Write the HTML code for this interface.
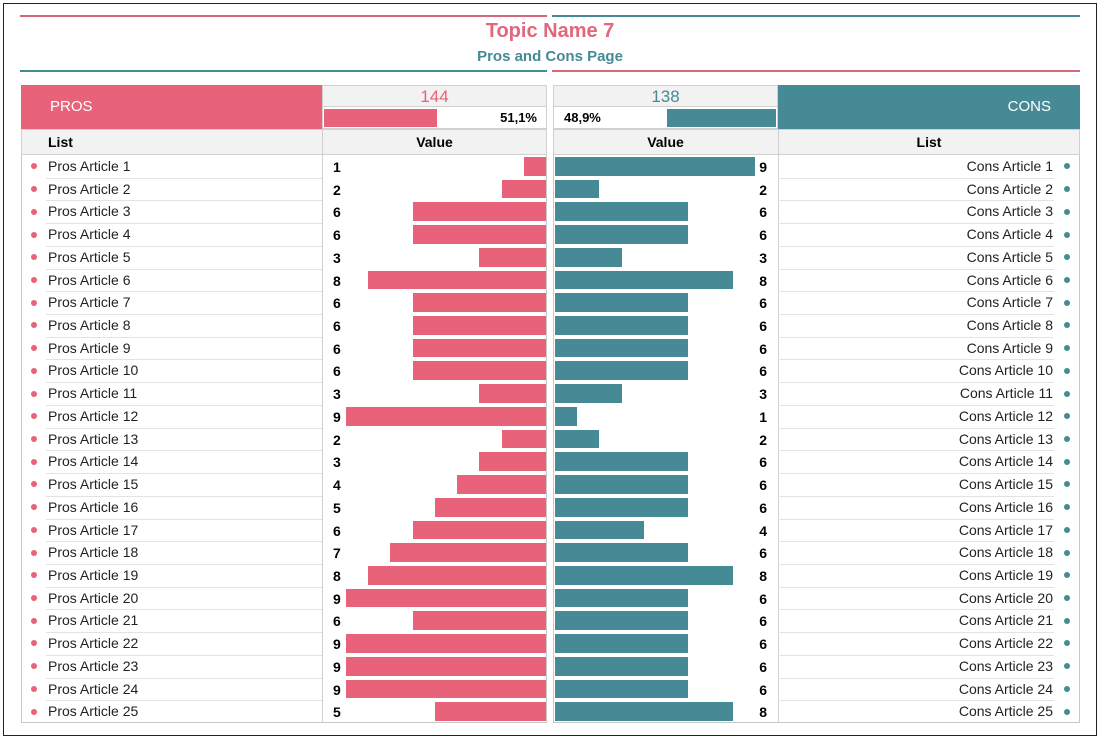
<!DOCTYPE html>
<html><head><meta charset="utf-8">
<style>
body{margin:0;background:#fff;font-family:"Liberation Sans",sans-serif;}
#root{position:relative;width:1100px;height:739px;overflow:hidden;background:#fff;}
.a{position:absolute;box-sizing:border-box;}
.t{position:absolute;white-space:nowrap;line-height:1;}
</style></head><body>
<div id="root">
<div class="a" style="left:3px;top:3px;width:1094px;height:733px;border:1px solid #222"></div>
<div class="a" style="left:20px;top:15px;width:527px;height:2px;background:#D9677A"></div>
<div class="a" style="left:552px;top:15px;width:528px;height:2px;background:#468A96"></div>
<div class="a" style="left:20px;top:70px;width:527px;height:2px;background:#468A96"></div>
<div class="a" style="left:552px;top:70px;width:528px;height:2px;background:#D9677A"></div>
<div class="t" style="left:0;width:1100px;text-align:center;top:21px;font-size:20px;font-weight:bold;color:#E0677C">Topic Name 7</div>
<div class="t" style="left:0;width:1100px;text-align:center;top:49px;font-size:15px;font-weight:bold;color:#468A96">Pros and Cons Page</div>
<div id="chart"></div>
</div>
<script>
const prosLabels=["Pros Article 1","Pros Article 2","Pros Article 3","Pros Article 4","Pros Article 5","Pros Article 6","Pros Article 7","Pros Article 8","Pros Article 9","Pros Article 10","Pros Article 11","Pros Article 12","Pros Article 13","Pros Article 14","Pros Article 15","Pros Article 16","Pros Article 17","Pros Article 18","Pros Article 19","Pros Article 20","Pros Article 21","Pros Article 22","Pros Article 23","Pros Article 24","Pros Article 25"];
const consLabels=["Cons Article 1","Cons Article 2","Cons Article 3","Cons Article 4","Cons Article 5","Cons Article 6","Cons Article 7","Cons Article 8","Cons Article 9","Cons Article 10","Cons Article 11","Cons Article 12","Cons Article 13","Cons Article 14","Cons Article 15","Cons Article 16","Cons Article 17","Cons Article 18","Cons Article 19","Cons Article 20","Cons Article 21","Cons Article 22","Cons Article 23","Cons Article 24","Cons Article 25"];
const prosValues=[1,2,6,6,3,8,6,6,6,6,3,9,2,3,4,5,6,7,8,9,6,9,9,9,5];
const consValues=[9,2,6,6,3,8,6,6,6,6,3,1,2,6,6,6,4,6,8,6,6,6,6,6,8];

const PINK="#E8627A",TEAL="#468A96";
const root=document.getElementById('chart');
function box(x,y,w,h,style){const d=document.createElement('div');d.className='a';d.style.cssText=`left:${x}px;top:${y}px;width:${w}px;height:${h}px;`+(style||'');root.appendChild(d);return d;}
function txt(x,y,w,s,style){const d=document.createElement('div');d.className='t';d.textContent=s;d.style.cssText=`left:${x}px;top:${y}px;width:${w}px;`+(style||'');root.appendChild(d);return d;}

const maxV=9, barMax=200;
const xScale=v=>v/maxV*barMax;
const rowTop=155, rowH=(723-155)/prosValues.length;
const yRow=i=>rowTop+i*rowH;

const prosTotal=prosValues.reduce((a,b)=>a+b,0), consTotal=consValues.reduce((a,b)=>a+b,0);
const prosPct=prosTotal/(prosTotal+consTotal), consPct=1-prosPct;
const fmt=p=>(p*100).toFixed(1).replace('.',',')+'%';

let e;
// header blocks
e=box(21,85,301,44,'background:'+PINK);


e=txt(50,99,100,'PROS','font-size:15px;color:#fff');


e=box(778,85,302,44,'background:'+TEAL);


e=txt(900,99,151,'CONS','font-size:15px;color:#fff;text-align:right');


// totals
e=box(322,85,225,22,'background:#F2F2F2;border:1px solid #d0d0d0');


e=txt(322,88,225,String(prosTotal),'font-size:17px;color:'+PINK+';text-align:center');


e=box(553,85,225,22,'background:#F2F2F2;border:1px solid #d0d0d0');


e=txt(553,88,225,String(consTotal),'font-size:17px;color:'+TEAL+';text-align:center');


e=box(322,107,225,22,'border:1px solid #d0d0d0;border-top:none');


e=box(324,109,prosPct*222,18,'background:'+PINK);


e=txt(440,111,97,fmt(prosPct),'font-size:13px;font-weight:bold;text-align:right;color:#000');


e=box(553,107,225,22,'border:1px solid #d0d0d0;border-top:none');


e=box(776-consPct*222,109,consPct*222,18,'background:'+TEAL);


e=txt(564,111,80,fmt(consPct),'font-size:13px;font-weight:bold;color:#000');


// column headers
e=box(21,129,526,26,'background:#F2F2F2;border:1px solid #d0d0d0');


e=box(553,129,527,26,'background:#F2F2F2;border:1px solid #d0d0d0');


e=txt(48,135,100,'List','font-size:14px;font-weight:bold');


e=txt(322,135,225,'Value','font-size:14px;font-weight:bold;text-align:center');


e=txt(553,135,225,'Value','font-size:14px;font-weight:bold;text-align:center');


e=txt(778,135,302,'List','font-size:14px;font-weight:bold;text-align:center');


// table frames
e=box(21,155,526,568,'border:1px solid #c8c8c8;border-top:none');


e=box(553,155,527,568,'border:1px solid #c8c8c8;border-top:none');


e=box(322,129,1,594,'background:#d0d0d0');


e=box(778,129,1,594,'background:#d0d0d0');



prosValues.forEach((v,i)=>{
  const y=yRow(i);
  if(i>0){
    e=box(46,y,276,1,'background:#e3e3e3');
    
    
    e=box(778,y,276,1,'background:#e3e3e3');
    
    
  }
  e=box(31,y+rowH/2-3,6,6,'border-radius:50%;background:'+PINK);
  
  
  e=txt(48,y+4,260,prosLabels[i],'font-size:14px;color:#222');
  
  
  const w=xScale(v);
  e=box(546-w,y+2,w,rowH-4,'background:'+PINK);
  
  
  e=txt(333,y+5,20,String(v),'font-size:14px;font-weight:bold;color:#000');
  
  

  const cv=consValues[i], cw=xScale(cv);
  e=box(555,y+2,cw,rowH-4,'background:'+TEAL);
  
  
  e=txt(747,y+5,20,String(cv),'font-size:14px;font-weight:bold;color:#000;text-align:right');
  
  
  e=txt(790,y+4,263,consLabels[i],'font-size:14px;color:#222;text-align:right');
  
  
  e=box(1064,y+rowH/2-3,6,6,'border-radius:50%;background:'+TEAL);
  
  
});
</script>
</body></html>
